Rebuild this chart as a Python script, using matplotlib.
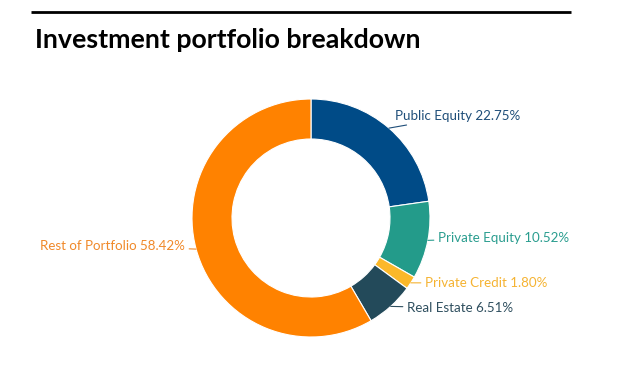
import numpy as np
import matplotlib.pyplot as plt

labels = ['Public Equity', 'Private Equity', 'Private Credit', 'Real Estate', 'Rest of Portfolio']
shares = [22.75, 10.52, 1.80, 6.51, 58.42]
colors = ['#004b87', '#239b8a', '#fbb829', '#234a5a', '#ff8200']
text_colors = ['#1f4e79', '#2a9d8f', '#f5b332', '#2f4f5f', '#f0892a']

W, H = 621, 377
fig = plt.figure(figsize=(W / 100, H / 100), dpi=100)
ax = fig.add_axes([0, 0, 1, 1])

cx, cy, R = 311, H - 218, 119
wedges, _ = ax.pie(shares, colors=colors, startangle=90, counterclock=False,
                   center=(cx, cy), radius=R, frame=True,
                   wedgeprops=dict(width=40, edgecolor='white', linewidth=0.8))
ax.set_xlim(0, W)
ax.set_ylim(0, H)
ax.set_aspect('equal')
ax.axis('off')

# label positions (pixel coords from the top left)
label_pos = [(395, 116), (438, 238), (425, 283), (407, 308), (185, 246)]
aligns = ['left', 'left', 'left', 'left', 'right']

for w, lab, val, tc, (lx, ly), ha in zip(wedges, labels, shares, text_colors, label_pos, aligns):
    ang = np.deg2rad((w.theta1 + w.theta2) / 2)
    ex, ey = cx + R * np.cos(ang), cy + R * np.sin(ang)
    ax.annotate(f'{lab} {val:.2f}%', xy=(ex, ey), xytext=(lx, H - ly),
                ha=ha, va='center', color=tc, fontsize=9.6, family='Lato',
                arrowprops=dict(arrowstyle='-', color=tc, lw=0.8,
                                shrinkA=1, shrinkB=0))

ax.plot([31, 571], [H - 12, H - 12], color='black', lw=2, solid_capstyle='butt')
ax.text(35, H - 40, 'Investment portfolio breakdown', fontsize=19.3, fontweight='bold',
        family='Lato', va='center', ha='left', color='black')

fig.savefig('out.png', dpi=100, facecolor='white')
